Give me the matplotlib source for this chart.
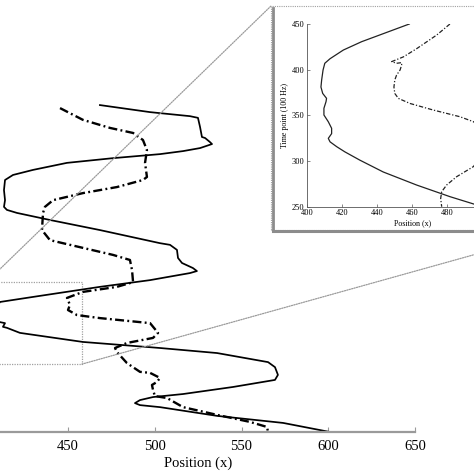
import matplotlib
matplotlib.use("Agg")
import matplotlib.pyplot as plt
from matplotlib.patches import Rectangle, ConnectionPatch
from matplotlib.lines import Line2D

plt.rcParams['font.family'] = 'serif'
plt.rcParams['font.serif'] = ['Liberation Serif', 'DejaVu Serif']

# main trace (position x, time point)
solid_x = [468.4, 497.3, 503.0, 520.3, 524.9, 526.1, 527.2, 529.0, 531.8, 533.0,
           526.1, 516.3, 503.0, 475.9, 449.4, 429.8, 418.3, 413.7, 413.1, 413.7,
           413.1, 414.8, 420.6, 439.6, 468.4, 503.0, 508.8, 512.8, 513.4, 515.7,
           522.0, 524.3, 520.3, 507.1, 497.3, 468.4, 429.8, 410.8, 408.5, 407.9,
           409.1, 410.8, 413.7, 412.5, 414.8, 422.3, 458.6, 503.0, 535.9, 565.3,
           569.3, 571.0, 569.3, 545.1, 516.3, 499.0, 491.5, 488.6, 491.5, 503.0,
           535.9, 574.0, 601.0]
solid_t = [973, 952, 949, 940, 935, 908, 878, 875, 863, 857,
           845, 836, 827, 815, 801, 780, 765, 750, 720, 690,
           670, 661, 652, 631, 601, 562, 557, 542, 518, 503,
           488, 479, 473, 461, 452, 432, 402, 387, 369, 348,
           333, 327, 324, 313, 310, 295, 268, 250, 235, 208,
           193, 170, 155, 134, 113, 104, 95, 86, 80, 74,
           48, 27, 0]

dash_x = [445.4, 458.6, 474.2, 487.5, 493.2, 495.5, 494.4, 495.5, 493.2, 478.2,
          458.6, 441.4, 436.7, 435.6, 435.0, 439.6, 458.6, 476.0, 485.7, 486.9,
          487.5, 478.2, 458.6, 449.4, 450.0, 451.1, 450.0, 455.2, 468.4, 497.3,
          501.9, 499.0, 484.0, 477.1, 478.2, 484.0, 491.5, 497.3, 503.0, 501.3,
          498.4, 499.0, 500.1, 507.1, 516.3, 535.9, 554.9, 564.7, 565.3]
dash_t = [964, 929, 905, 890, 869, 839, 801, 759, 750, 729,
          711, 690, 670, 652, 601, 571, 548, 527, 512, 482,
          446, 432, 417, 399, 393, 378, 363, 348, 339, 324,
          295, 280, 265, 250, 238, 205, 179, 176, 161, 149,
          140, 125, 107, 101, 74, 51, 30, 15, 0]

# zoomed view (inset)
in_solid_x = [458.3, 431.0, 420.6, 413.0, 410.0, 409.0, 408.2, 407.8, 408.8, 411.0,
              410.7, 409.5, 409.5, 412.0, 413.9, 413.9, 412.0, 413.0, 416.8, 421.5,
              430.0, 443.4, 462.5, 481.5, 495.0, 500.0]
in_solid_t = [450, 430.6, 421.5, 412, 407, 399.6, 388.7, 381, 374, 368.6,
              365, 357.7, 350.4, 343, 335.8, 330, 324.8, 321, 315.7, 310,
              301, 288, 273.7, 261, 253, 250]

in_dash_x = [481.5, 474.0, 462.5, 454.9, 451.0, 448.2, 451.0, 453.9, 453.9, 453.0,
             451.0, 450.0, 449.5, 450.0, 452.0, 458.7, 472.0, 487.2, 495.0, 502.0,
             503.0, 495.0, 485.3, 479.6, 476.8, 476.2, 476.8]
in_dash_t = [450, 438, 423, 414, 411, 408.8, 407, 407.7, 405, 399.6,
             394, 388.7, 381, 374, 368.6, 363, 355.8, 348.5, 343, 330,
             318, 294, 282.8, 273.7, 266.4, 259, 250]

main_ticks = [450, 500, 550, 600, 650]
inset_xticks = [400, 420, 440, 460, 480]
inset_yticks = [250, 300, 350, 400, 450]
zoom_x = (403, 458)
zoom_t = (202, 446)

W = 474.0
def fx(px):
    return px / W
def fy(py):
    return 1 - py / W

fig = plt.figure(figsize=(4.74, 4.74), dpi=100)

# main axes (left part cropped off the picture)
ax = fig.add_axes([fx(-18.75), fy(432), (415 + 18.75) / W, 336 / W])
ax.plot(solid_x, solid_t, color='black', lw=1.25)
ax.plot(dash_x, dash_t, color='black', lw=1.7, linestyle=(0, (3.8, 1.4, 0.8, 1.4)))
ax.set_xlim(400, 650)
ax.set_ylim(0, 1000)
ax.set_xticks(main_ticks)
ax.set_xticklabels([str(v) for v in main_ticks])
ax.set_yticks([])
for s in ['left', 'top', 'right']:
    ax.spines[s].set_visible(False)
ax.spines['bottom'].set_color('#9a9a9a')
ax.spines['bottom'].set_linewidth(1.6)
ax.tick_params(axis='x', direction='in', length=3.5, width=0.8, color='#9a9a9a',
               labelsize=10.5, pad=6)
ax.set_xlabel('Position (x)', fontsize=10.5, labelpad=2)

# zoom rectangle
ax.add_patch(Rectangle((zoom_x[0], zoom_t[0]), zoom_x[1] - zoom_x[0], zoom_t[1] - zoom_t[0],
                       fill=False, edgecolor='#a0a0a0', lw=0.9, linestyle=(0, (1, 1))))

# connector lines to the inset frame
for xyA, xyB in [((zoom_x[0], zoom_t[1]), (271, W - 6)),
                 ((zoom_x[1], zoom_t[0]), (559, W - 231))]:
    con = ConnectionPatch(xyA=xyA, coordsA=ax.transData, xyB=xyB, coordsB='figure pixels',
                          color='#9a9a9a', lw=0.9, linestyle=(0, (1, 1)), zorder=1)
    fig.add_artist(con)

# inset frame with shadow
frame = Rectangle((fx(270.5), fy(229.5)), (559 - 270.5) / W, (229.5 - 6) / W,
                  transform=fig.transFigure, facecolor='white', edgecolor='#a0a0a0',
                  lw=0.8, linestyle=(0, (1, 1)), zorder=2)
fig.add_artist(frame)
fig.add_artist(Line2D([fx(272.5), fx(272.5)], [fy(8), fy(231)], transform=fig.transFigure,
                      color='#8c8c8c', lw=2.0, zorder=2.1))
fig.add_artist(Line2D([fx(272.5), fx(560)], [fy(230.5), fy(230.5)], transform=fig.transFigure,
                      color='#8c8c8c', lw=2.2, zorder=2.1))

axin = fig.add_axes([fx(307.3), fy(206.7), 210 / W, 182.7 / W], zorder=3)
axin.plot(in_solid_x, in_solid_t, color='#222222', lw=0.9)
axin.plot(in_dash_x, in_dash_t, color='#222222', lw=0.9, linestyle=(0, (3.5, 1.5, 1, 1.5)))
axin.set_xlim(400, 520)
axin.set_ylim(250, 450)
axin.set_xticks(inset_xticks)
axin.set_yticks(inset_yticks)
axin.spines['top'].set_visible(False)
axin.spines['right'].set_visible(False)
for s in ['left', 'bottom']:
    axin.spines[s].set_color('#555555')
    axin.spines[s].set_linewidth(0.6)
axin.tick_params(direction='in', length=2, width=0.5, color='#555555', labelsize=6, pad=2)
axin.set_xlabel('Position (x)', fontsize=5.8, labelpad=1)
axin.set_ylabel('Time point (100 Hz)', fontsize=5.8, labelpad=2)
axin.patch.set_alpha(0)

fig.savefig('out.png', dpi=100)
